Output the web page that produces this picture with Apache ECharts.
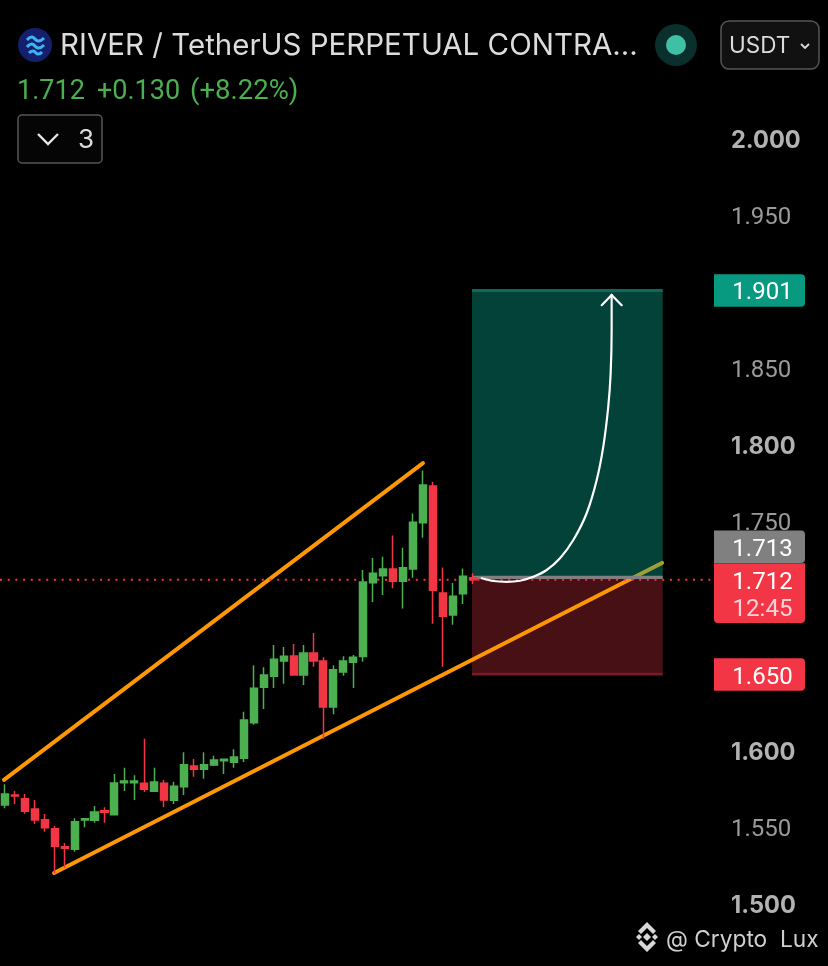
<!DOCTYPE html>
<html>
<head>
<meta charset="utf-8">
<style>html,body{margin:0;padding:0;background:#000}#c{width:828px;height:966px}</style>
<script src="https://cdn.jsdelivr.net/npm/echarts@6/dist/echarts.min.js"></script>
</head>
<body>
<div id="c"></div>
<script>
// candle values, oldest first
const opens  = [1.5647,1.5713,1.5688,1.5621,1.5551,1.5492,1.5375,1.5358,1.5549,1.5547,1.5610,1.5584,1.5793,1.5793,1.5789,1.5737,1.5789,1.5678,1.5767,1.5902,1.5880,1.5908,1.5936,1.5926,1.5952,1.6185,1.6416,1.6488,1.6588,1.6621,1.6497,1.6641,1.6588,1.6288,1.6516,1.6580,1.6618,1.7100,1.7146,1.7189,1.7109,1.7189,1.7492,1.7732,1.7032,1.6889,1.7028,1.7133];
const closes = [1.5719,1.5706,1.5606,1.5549,1.5499,1.5377,1.5364,1.5538,1.5558,1.5601,1.5599,1.5791,1.5804,1.5804,1.5750,1.5797,1.5680,1.5769,1.5910,1.5880,1.5910,1.5941,1.5946,1.5961,1.6203,1.6410,1.6497,1.6599,1.6619,1.6497,1.6641,1.6588,1.6288,1.6531,1.6588,1.6612,1.7105,1.7161,1.7189,1.7109,1.7198,1.7495,1.7738,1.7050,1.6880,1.7011,1.7142,1.7120];
const lows   = [1.5626,1.5654,1.5590,1.5523,1.5473,1.5201,1.5235,1.5342,1.5501,1.5531,1.5531,1.5582,1.5739,1.5680,1.5732,1.5734,1.5632,1.5654,1.5712,1.5832,1.5819,1.5902,1.5850,1.5891,1.5928,1.6172,1.6275,1.6412,1.6440,1.6492,1.6432,1.6551,1.6080,1.6240,1.6492,1.6412,1.6584,1.6974,1.7020,1.7063,1.6932,1.7132,1.7394,1.6832,1.6550,1.6825,1.6961,1.7092];
const highs  = [1.5782,1.5739,1.5719,1.5680,1.5588,1.5510,1.5399,1.5560,1.5560,1.5641,1.5632,1.5850,1.5891,1.5841,1.6080,1.5891,1.5810,1.5799,1.5992,1.5948,1.5992,1.5969,1.5946,1.6011,1.6257,1.6560,1.6547,1.6693,1.6680,1.6699,1.6693,1.6772,1.6612,1.6560,1.6619,1.6628,1.7183,1.7261,1.7270,1.7409,1.7329,1.7553,1.7834,1.7760,1.7200,1.7098,1.7192,1.7162];
const totalSlots = 83;

// y axis
const yMin = 1.5, yMax = 2.05, yStep = 0.05;
const yTickLabels = ['1.500','1.550','1.600','1.750','1.800','1.850','1.950','2.000'];
const yBoldLabels = ['1.500','1.600','1.800','2.000'];

// drawings, x in candle-index units
const upperTrendX = [-0.10, 42.0],  upperTrendY = [1.5811, 1.7882];
const lowerTrendX = [4.93, 66.02],  lowerTrendY = [1.5203, 1.7229];
const boxStart = 46.93, boxEnd = 66.09;
const entryPrice = 1.713, targetPrice = 1.901, stopPrice = 1.650, lastPrice = 1.712;
const priceLineEnd = 71.05;
const curveX = [47.90,49.07,50.41,51.75,53.09,54.43,55.77,57.11,58.45,59.46,60.12,60.62,60.86,60.96,60.96];
const curveY = [1.7129,1.7111,1.7106,1.7113,1.7139,1.7183,1.7260,1.7379,1.7554,1.7771,1.7989,1.8250,1.8469,1.8752,1.8981];
const headX = [59.96,60.96,61.97], headY = [1.8914,1.8981,1.8914];

// tags
const tagValues = [1.901, 1.713, 1.650];
const tagTexts  = ['1.901','1.713','1.650'];
const tagColors = ['#089981','#808080','#F23645'];
const tagShift  = [0, -31.4, 0];

const GREEN = '#4CAF50', RED = '#F23645', FONT = 'Inter, Roboto, sans-serif', DIGITS = 'Roboto, Inter, sans-serif';
const zipXY = (a, b) => a.map((v, i) => [v, b[i]]);
const lineSeries = (xs, ys, color, width, z, extra) => Object.assign({
  type: 'line', xAxisIndex: 1, yAxisIndex: 0, data: zipXY(xs, ys), symbol: 'none', silent: true, z: z,
  lineStyle: { color: color, width: width, cap: 'round', join: 'round' }
}, extra || {});
const boxSeries = (top, bottom, fill, z) => ({
  type: 'custom', xAxisIndex: 1, yAxisIndex: 0, silent: true, z: z,
  data: [[boxStart, boxEnd, top, bottom]],
  renderItem: (p, api) => {
    const a = api.coord([api.value(0), api.value(2)]), b = api.coord([api.value(1), api.value(3)]);
    return { type: 'rect', shape: { x: a[0], y: a[1], width: b[0] - a[0], height: b[1] - a[1] }, style: { fill: fill } };
  }
});

const chart = echarts.init(document.getElementById('c'), null, { renderer: 'canvas' });
chart.setOption({
  animation: false,
  backgroundColor: '#000',
  grid: { left: 0, top: 62.5, width: 826, height: 841.5, containLabel: false },
  xAxis: [
    { type: 'category', data: Array.from({ length: totalSlots }, (_, i) => i), boundaryGap: true, show: false },
    { type: 'value', min: -0.5, max: totalSlots - 0.5, show: false }
  ],
  yAxis: {
    type: 'value', position: 'right', min: yMin, max: yMax, interval: yStep,
    axisLine: { show: false }, axisTick: { show: false }, splitLine: { show: false },
    axisLabel: {
      inside: true, margin: 95, align: 'left', verticalAlign: 'middle',
      formatter: v => {
        const s = v.toFixed(3);
        if (!yTickLabels.includes(s)) return '';
        return yBoldLabels.includes(s) ? '{b|' + s + '}' : '{n|' + s + '}';
      },
      rich: {
        b: { fontFamily: FONT, fontSize: 23.6, fontWeight: 700, color: '#B2B2B2', padding: [4, 0, 0, 0] },
        n: { fontFamily: DIGITS, fontSize: 24, fontWeight: 400, color: '#9A9A9A', padding: [4, 0, 0, 0] }
      }
    }
  },
  series: [
    boxSeries(entryPrice, stopPrice, '#461014', 3),
    boxSeries(stopPrice + 0.0012, stopPrice - 0.0006, '#7A1A24', 3),
    lineSeries(upperTrendX, upperTrendY, '#FF9800', 4, 4),
    lineSeries(lowerTrendX, lowerTrendY, '#FF9800', 4, 4),
    boxSeries(targetPrice, entryPrice, 'rgba(8,170,145,0.39)', 5),
    boxSeries(targetPrice + 0.001, targetPrice - 0.001, '#0E6A58', 5),
    boxSeries(entryPrice + 0.0015, entryPrice - 0.0005, '#808080', 6),
    lineSeries([-0.5, priceLineEnd], [lastPrice, lastPrice], RED, 2, 7, {
      lineStyle: { color: RED, width: 2, type: [2, 5.7] }
    }),
    lineSeries(curveX, curveY, '#FFFFFF', 2.2, 8, { smooth: 0.3 }),
    lineSeries(headX, headY, '#FFFFFF', 2.2, 8),
    {
      type: 'candlestick', xAxisIndex: 0, yAxisIndex: 0, z: 9, barWidth: 7.6, silent: true,
      data: opens.map((o, i) => [o, closes[i], lows[i], highs[i]]),
      itemStyle: { color: GREEN, color0: RED, borderColor: GREEN, borderColor0: RED, borderWidth: 1.5 }
    },
    {
      type: 'custom', xAxisIndex: 1, yAxisIndex: 0, silent: true, z: 10,
      data: tagValues.map((v, i) => [v, i]),
      renderItem: (p, api) => {
        const i = api.value(1), y = api.coord([0, api.value(0)])[1] + tagShift[i];
        return { type: 'group', children: [
          { type: 'rect', shape: { x: 714, y: y - 16.3, width: 91, height: 32.6, r: [0, 4, 4, 0] }, style: { fill: tagColors[i] } },
          { type: 'text', style: { x: 762.5, y: y + 3, text: tagTexts[i], fill: '#fff', font: '24px ' + DIGITS, align: 'center', verticalAlign: 'middle' } }
        ] };
      }
    },
    {
      type: 'custom', xAxisIndex: 1, yAxisIndex: 0, silent: true, z: 11,
      data: [[lastPrice]],
      renderItem: (p, api) => {
        const y = api.coord([0, api.value(0)])[1];
        return { type: 'group', children: [
          { type: 'rect', shape: { x: 714, y: y - 16.3, width: 91, height: 59.7, r: [0, 0, 4, 4] }, style: { fill: RED } },
          { type: 'text', style: { x: 762.5, y: y + 3, text: '1.712', fill: '#fff', font: '24px ' + DIGITS, align: 'center', verticalAlign: 'middle' } },
          { type: 'text', style: { x: 762.5, y: y + 30.5, text: '12:45', fill: 'rgba(255,255,255,0.78)', font: '24px ' + DIGITS, align: 'center', verticalAlign: 'middle' } }
        ] };
      }
    }
  ],
  graphic: [
    // header
    { type: 'circle', shape: { cx: 35, cy: 45, r: 17 }, style: { fill: '#14206E' }, z: 20 },
    { type: 'polyline', shape: { smooth: 0.5, points: [[27, 40], [32, 37], [38, 41], [44, 38]] }, style: { fill: 'none', stroke: '#3FB4F5', lineWidth: 3 }, z: 21 },
    { type: 'polyline', shape: { smooth: 0.5, points: [[27, 47], [32, 44], [38, 48], [44, 45]] }, style: { fill: 'none', stroke: '#3FB4F5', lineWidth: 3 }, z: 21 },
    { type: 'polyline', shape: { smooth: 0.5, points: [[29, 53], [33, 51], [38, 54], [42, 52]] }, style: { fill: 'none', stroke: '#3FB4F5', lineWidth: 3 }, z: 21 },
    { type: 'text', x: 60, y: 46, style: { text: 'RIVER / TetherUS PERPETUAL CONTRA...', fill: '#DCDCDC', font: '29.5px ' + FONT, verticalAlign: 'middle' }, z: 20 },
    { type: 'circle', shape: { cx: 676, cy: 45, r: 21 }, style: { fill: '#0A2F2C' }, z: 20 },
    { type: 'circle', shape: { cx: 676, cy: 45, r: 10 }, style: { fill: '#3FBFA5' }, z: 21 },
    { type: 'rect', shape: { x: 721, y: 21, width: 98, height: 48, r: 8 }, style: { fill: '#111', stroke: '#555', lineWidth: 1.5 }, z: 20 },
    { type: 'text', x: 729, y: 46, style: { text: 'USDT', fill: '#DCDCDC', font: '22.5px ' + FONT, verticalAlign: 'middle' }, z: 21 },
    { type: 'polyline', shape: { points: [[801, 44], [805, 48], [809, 44]] }, style: { fill: 'none', stroke: '#DCDCDC', lineWidth: 1.8 }, z: 21 },
    { type: 'text', x: 17, y: 92, style: { text: '1.712', fill: GREEN, font: '27px ' + DIGITS, verticalAlign: 'middle' }, z: 20 },
    { type: 'text', x: 97, y: 92, style: { text: '+0.130', fill: GREEN, font: '27px ' + DIGITS, verticalAlign: 'middle' }, z: 20 },
    { type: 'text', x: 190, y: 92, style: { text: '(+8.22%)', fill: GREEN, font: '27.5px ' + DIGITS, verticalAlign: 'middle' }, z: 20 },
    { type: 'rect', shape: { x: 18, y: 115, width: 84, height: 48, r: 4 }, style: { fill: '#050505', stroke: '#555', lineWidth: 1.5 }, z: 20 },
    { type: 'polyline', shape: { points: [[38, 134], [48, 144], [58, 134]] }, style: { fill: 'none', stroke: '#E5E5E5', lineWidth: 2.4 }, z: 21 },
    { type: 'text', x: 78, y: 140, style: { text: '3', fill: '#DCDCDC', font: '26px ' + FONT, verticalAlign: 'middle' }, z: 21 },
    // watermark
    { type: 'polygon', shape: { points: [[647, 933], [651, 937], [647, 941], [643, 937]] }, style: { fill: '#D8D8D8' }, z: 20 },
    { type: 'polygon', shape: { points: [[636, 937], [639, 934], [642, 937], [639, 940]] }, style: { fill: '#D8D8D8' }, z: 20 },
    { type: 'polygon', shape: { points: [[652, 937], [655, 934], [658, 937], [655, 940]] }, style: { fill: '#D8D8D8' }, z: 20 },
    { type: 'polygon', shape: { points: [[638, 931], [647, 922], [656, 931], [653, 934], [647, 928], [641, 934]] }, style: { fill: '#D8D8D8' }, z: 20 },
    { type: 'polygon', shape: { points: [[638, 943], [641, 940], [647, 946], [653, 940], [656, 943], [647, 952]] }, style: { fill: '#D8D8D8' }, z: 20 },
    { type: 'text', x: 666, y: 940, style: { text: '@ Crypto  Lux', fill: '#CFCFCF', font: '22.7px ' + FONT, verticalAlign: 'middle' }, z: 20 }
  ]
});
</script>
</body>
</html>
